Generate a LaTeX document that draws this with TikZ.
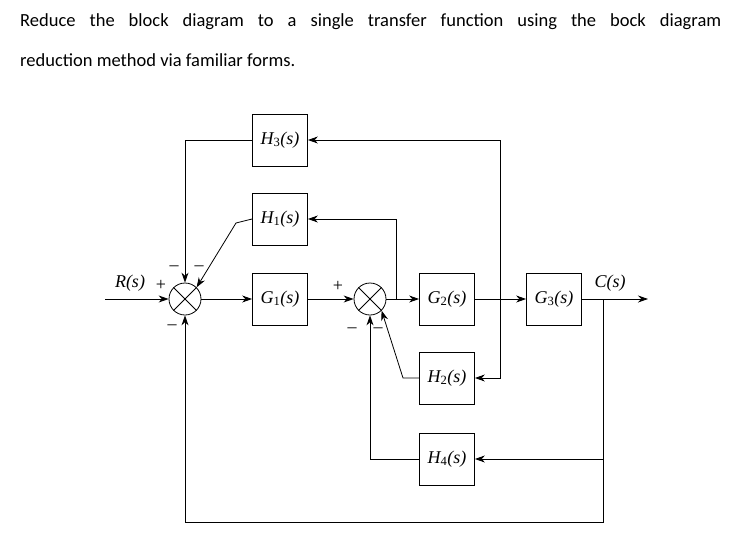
\documentclass[tikz,border=0pt]{standalone}
\usepackage{fontspec}
\setmainfont{Liberation Serif}
\newfontfamily\calfont{Carlito}
\usetikzlibrary{arrows.meta}
\newcommand{\tf}[2]{#1\textsubscript{\upshape #2}(s)}
\begin{document}
\begin{tikzpicture}[x=1pt,y=-1pt,
  blk/.style={draw,line width=0.8pt,minimum width=55pt,minimum height=52pt,font=\itshape\fontsize{18}{18}\selectfont,inner sep=0pt},
  sumj/.style={draw,circle,minimum size=32pt,inner sep=0pt,line width=0.8pt},
  ln/.style={line width=0.8pt},
  ar/.style={ln,-{Stealth[length=10pt,width=7pt]}},
  sg/.style={font=\fontsize{18}{18}\selectfont}]
\useasboundingbox (0,0) rectangle (732,536);
\node[anchor=west,font=\calfont\fontsize{18.5}{20}\selectfont,inner sep=0pt] (t1) at (20,22)
 {\makebox[701pt][s]{Reduce the block diagram to a single transfer function using the bock diagram}};
\node[anchor=west,font=\calfont\fontsize{18.5}{20}\selectfont,inner sep=0pt] (t2) at (20,60)
 {reduction method via familiar forms.};
\node[sumj] (s1) at (185,299) {};
\node[sumj] (s2) at (370,299) {};
\draw[ln] (s1.north west)--(s1.south east) (s1.north east)--(s1.south west);
\draw[ln] (s2.north west)--(s2.south east) (s2.north east)--(s2.south west);
\node[blk] (g1) at (280,299) {\tf{G}{1}};
\node[blk] (h1) at (280,219) {\tf{H}{1}};
\node[blk] (h3) at (280,140) {\tf{H}{3}};
\node[blk] (g2) at (447,299) {\tf{G}{2}};
\node[blk] (g3) at (554,299) {\tf{G}{3}};
\node[blk] (h2) at (447,378) {\tf{H}{2}};
\node[blk] (h4) at (447,459) {\tf{H}{4}};
\coordinate (in) at (105,299);
\coordinate (out) at (648,299);
\coordinate (b1) at (396,299);
\coordinate (b3) at (500,299);
\coordinate (bc) at (603,299);
\draw[ar] (in)--(s1.west);
\draw[ar] (s1.east)--(g1.west);
\draw[ar] (g1.east)--(s2.west);
\draw[ar] (s2.east)--(g2.west);
\draw[ar] (g2.east)--(g3.west);
\draw[ar] (g3.east)--(out);
\draw[ar] (b1)|-(h1.east);
\draw[ar] (h1.west)--(236,223)--(s1.north east);
\draw[ar] (b3)|-(h3.east);
\draw[ar] (h3.west)-|(s1.north);
\draw[ar] (b3)|-(h2.east);
\draw[ar] (h2.west)--(403,378)--(s2.south east);
\draw[ar] (bc)|-(h4.east);
\draw[ar] (h4.west)-|(s2.south);
\draw[ar] (bc)|-(185,522)--(s1.south);
\node[font=\itshape\fontsize{18}{18}\selectfont] (rl) at (130,283) {R(s)};
\node[font=\itshape\fontsize{18}{18}\selectfont] (cl) at (610,283) {C(s)};
\node[sg] (p1) at (161,285) {+};
\node[sg] (m1) at (174,268) {\textendash};
\node[sg] (m2) at (199,268) {\textendash};
\node[sg] (m3) at (172,327) {\textendash};
\node[sg] (p2) at (338,286) {+};
\node[sg] (m4) at (352,330) {\textendash};
\node[sg] (m5) at (378,330) {\textendash};
\end{tikzpicture}
\end{document}
